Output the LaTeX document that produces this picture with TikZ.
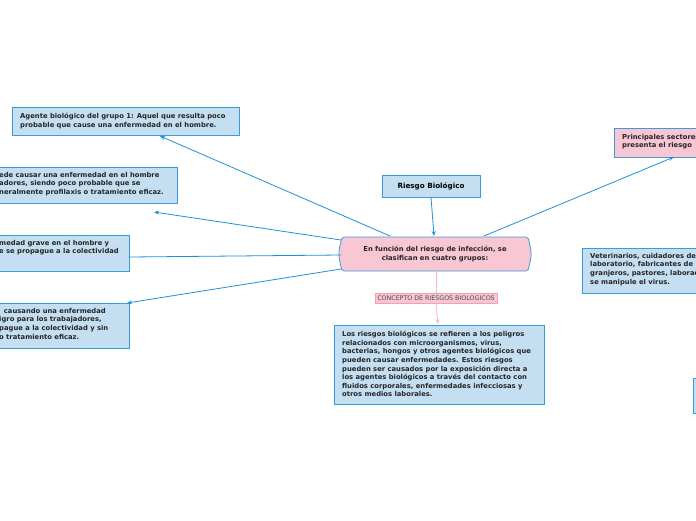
\documentclass[tikz,border=0pt]{standalone}
\usepackage{fontspec}
\setmainfont{DejaVu Sans}
\usetikzlibrary{arrows.meta}
\definecolor{bfill}{HTML}{C4DFF2}
\definecolor{bdraw}{HTML}{3A9DDB}
\definecolor{pfill}{HTML}{F9C6D3}
\definecolor{arr}{HTML}{1E90DC}
\tikzset{
  box/.style={draw=bdraw,line width=0.8pt,fill=bfill},
  pbox/.style={draw=bdraw,line width=0.8pt,fill=pfill},
  txt/.style={inner sep=0pt,font=\fontsize{6.8}{8.6}\selectfont\bfseries,align=left,text=black!85},
  con/.style={arr,line width=0.8pt,-{Stealth[length=5pt,width=4pt]}}
}
\begin{document}
\begin{tikzpicture}[x=1pt,y=-1pt]
\useasboundingbox (0,0) rectangle (696,520);
\clip (0,0) rectangle (696,520);
% boxes
\draw[box] (12,107) rectangle (239,135);
\node[txt,anchor=north west] (g1) at (20,113) {Agente biológico del grupo 1: Aquel que resulta poco\\probable que cause una enfermedad en el hombre.};
\coordinate (g1a) at (160,136);
\draw[box] (-5,167) rectangle (177,203);
\node[txt,anchor=north west] (g2) at (-1,172) {ede causar una enfermedad en el hombre\\adores, siendo poco probable que se\\neralmente profilaxis o tratamiento eficaz.};
\coordinate (g2a) at (154,212);
\draw[box] (-5,235) rectangle (129,271);
\node[txt,anchor=north west] (g3) at (-1,240) {medad grave en el hombre y\\e se propague a la colectividad};
\coordinate (g3a) at (129,257);
\draw[box] (-5,303) rectangle (129,348);
\node[txt,anchor=north west] (g4) at (-1,308) {\ \ causando una enfermedad\\igro para los trabajadores,\\pague a la colectividad y sin\\o tratamiento eficaz.};
\coordinate (g4a) at (127,303);
\draw[pbox] (614,128) rectangle (700,157);
\node[txt,anchor=north west] (ps) at (622,134) {Principales sectores que\\presenta el riesgo};
\coordinate (psa) at (674,157);
\draw[box] (582,248) rectangle (700,293);
\node[txt,anchor=north west] (vet) at (590,253) {Veterinarios, cuidadores de\\laboratorio, fabricantes de\\granjeros, pastores, laboradores\\se manipule el virus.};
\draw[box] (693,378) rectangle (700,413);
% center
\node[draw=bdraw,line width=0.8pt,fill=bfill,minimum width=98pt,minimum height=22pt,inner sep=0pt,font=\fontsize{7.2}{9}\selectfont\bfseries] (rb) at (431,186) {Riesgo Biológico};
\draw[pbox,rounded corners=2pt] (342,237) .. controls (338,254) .. (342,271) -- (528,271) .. controls (532,254) .. (528,237) -- cycle;
\node[txt,align=center] (c) at (435,254) {En función del riesgo de infección, se\\clasifican en cuatro grupos:};
\node[fill=pfill,draw=pfill!80!red,line width=0.4pt,inner sep=2.5pt,font=\fontsize{6.3}{7}\selectfont,text=black!70] (lab) at (436,298) {CONCEPTO DE RIESGOS BIOLOGICOS};
\draw[box] (334,325) rectangle (544,404);
\node[txt,anchor=north west] (def) at (342,331) {Los riesgos biológicos se refieren a los peligros\\relacionados con microorganismos, virus,\\bacterias, hongos y otros agentes biológicos que\\pueden causar enfermedades. Estos riesgos\\pueden ser causados por la exposición directa a\\los agentes biológicos a través del contacto con\\fluidos corporales, enfermedades infecciosas y\\otros medios laborales.};
\coordinate (cn1) at (390,236);
\coordinate (cn2) at (341,240);
\coordinate (cn3) at (341,255);
\coordinate (cn4) at (341,269);
\coordinate (cn5) at (484,236);
\coordinate (ctop) at (434,236);
\coordinate (cbot) at (436,272);
\coordinate (dtop) at (438,324);
% connectors
\draw[con] (rb.south) -- (ctop);
\draw[con] (cn1) -- (g1a);
\draw[con] (cn2) -- (g2a);
\draw[arr,line width=0.8pt] (cn3) -- (g3a);
\draw[con] (cn4) -- (g4a);
\draw[con] (cn5) -- (psa);
\draw[pfill!70!red!60,line width=0.8pt] (cbot) -- (lab.north);
\draw[pfill!70!red!60,line width=0.8pt,-{Stealth[length=5pt,width=4pt]}] (lab.south) -- (dtop);
\end{tikzpicture}
\end{document}
